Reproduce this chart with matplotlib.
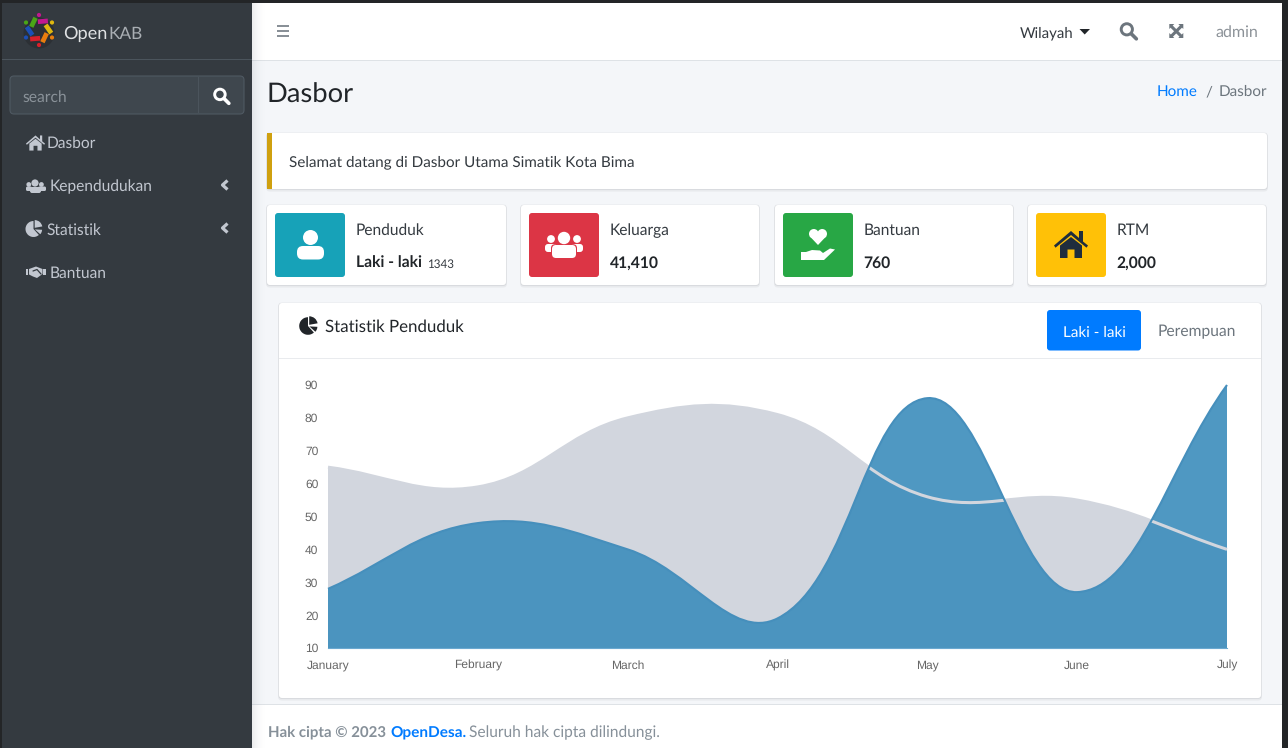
import numpy as np
import matplotlib
matplotlib.use('Agg')
import matplotlib.pyplot as plt
from matplotlib.patches import Circle, FancyBboxPatch, PathPatch, Polygon, Rectangle, Wedge
from matplotlib.path import Path

# chart data
months = ['January', 'February', 'March', 'April', 'May', 'June', 'July']
grey_values = [65, 59, 80, 81, 56, 55, 40]
blue_values = [28, 48, 40, 19, 86, 27, 90]
y_ticks = [10, 20, 30, 40, 50, 60, 70, 80, 90]

# page text
menu_labels = ['Dasbor', 'Kependudukan', 'Statistik', 'Bantuan']
box_titles = ['Penduduk', 'Keluarga', 'Bantuan', 'RTM']
box_values = ['Laki - laki', '41,410', '760', '2,000']

FONT = 'Lato'
GREY_FILL = '#d2d6de'
BLUE = '#3c8dbc'

plt.rcParams['font.family'] = FONT
plt.rcParams['text.hinting'] = 'no_hinting'

fig = plt.figure(figsize=(12.88, 7.48), dpi=100, facecolor='#f4f6f9')
ui = fig.add_axes([0, 0, 1, 1])
ui.set_xlim(0, 1288)
ui.set_ylim(748, 0)
ui.axis('off')


def rect(x0, y0, x1, y1, color, z=1, alpha=None):
    ui.add_patch(Rectangle((x0, y0), x1 - x0, y1 - y0, fc=color, ec='none', zorder=z, alpha=alpha))


def rbox(x0, y0, x1, y1, color, r=3, ec='none', z=2):
    ui.add_patch(FancyBboxPatch((x0, y0), x1 - x0, y1 - y0, boxstyle=f'round,pad=0,rounding_size={r}',
                                fc=color, ec=ec, lw=0.8, zorder=z))


def card(x0, y0, x1, y1, z=2):
    # soft shadow below, then the white box
    rbox(x0 - 1, y0 - 0.5, x1 + 1, y1 + 2.5, '#e8eaed', r=4, z=z)
    rbox(x0 - 0.5, y0, x1 + 0.5, y1 + 1, '#d9dbdf', r=3.5, z=z)
    rbox(x0, y0, x1, y1, 'white', r=3, z=z)


def txt(x, y, s, size=15.5, color='#212529', weight='normal', ha='left', z=6):
    # size in css px, y is the baseline
    ui.text(x, y, s, fontsize=size * 0.72, color=color, fontweight=weight, ha=ha, va='baseline', zorder=z)


def poly(points, color, z=5):
    ui.add_patch(Polygon(points, closed=True, fc=color, ec='none', zorder=z))


def line(xs, ys, color, lw=2, z=5, cap='round'):
    ui.plot(xs, ys, color=color, lw=lw, solid_capstyle=cap, solid_joinstyle='round', zorder=z)


def dot(x, y, r, color, z=5):
    ui.add_patch(Circle((x, y), r, fc=color, ec='none', zorder=z))


def person(cx, cy, s, color, z=5):
    dot(cx, cy - 7.5 * s, 7.5 * s, color, z)
    rbox(cx - 13.5 * s, cy + 1 * s, cx + 13.5 * s, cy + 14.5 * s, color, r=6 * s, z=z)


def people(cx, cy, color):
    dot(cx - 13, cy - 6, 3.9, color)
    dot(cx + 13, cy - 6, 3.9, color)
    rbox(cx - 19, cy - 1, cx - 7, cy + 7, color, r=3, z=5)
    rbox(cx + 7, cy - 1, cx + 19, cy + 7, color, r=3, z=5)
    dot(cx, cy - 7, 7, '#dc3545', 5.5)
    dot(cx, cy - 7, 6.2, color, 5.6)
    rbox(cx - 13, cy - 0.8, cx + 13, cy + 14, '#dc3545', r=4, z=5.5)
    rbox(cx - 12, cy, cx + 12, cy + 13, color, r=4, z=5.6)


def house(cx, cy, s, color):
    poly([(cx - 17 * s, cy + 1 * s), (cx, cy - 13.5 * s), (cx + 8 * s, cy - 6.5 * s), (cx + 8 * s, cy - 13.5 * s),
          (cx + 12 * s, cy - 13.5 * s), (cx + 12 * s, cy - 3 * s), (cx + 17 * s, cy + 1 * s), (cx + 15.5 * s, cy + 3.2 * s),
          (cx, cy - 9.5 * s), (cx - 15.5 * s, cy + 3.2 * s)], color)
    poly([(cx - 11 * s, cy + 1 * s), (cx, cy - 7.5 * s), (cx + 11 * s, cy + 1 * s), (cx + 11 * s, cy + 13.5 * s),
          (cx + 3.5 * s, cy + 13.5 * s), (cx + 3.5 * s, cy + 5 * s), (cx - 3.5 * s, cy + 5 * s), (cx - 3.5 * s, cy + 13.5 * s),
          (cx - 11 * s, cy + 13.5 * s)], color)


def pie_icon(cx, cy, r, color):
    # y axis is flipped here, so 90 degrees points down on screen
    ui.add_patch(Wedge((cx, cy), r, 48, 270, fc=color, ec='none', zorder=5))
    ui.add_patch(Wedge((cx + 1.2, cy - 1.2), r - 0.3, 270, 350, fc=color, ec='none', zorder=5))
    ui.add_patch(Wedge((cx + 1.4, cy + 0.4), r - 0.8, 3, 42, fc=color, ec='none', zorder=5))


def magnifier(cx, cy, s, color, z=5):
    ui.add_patch(Circle((cx - 1.5 * s, cy - 1.5 * s), 5 * s, fc='none', ec=color, lw=2.1, zorder=z))
    line([cx + 2.5 * s, cx + 7 * s], [cy + 2.5 * s, cy + 7 * s], color, 2.6, z)


# outer window frame and page areas
rect(0, 0, 1288, 748, '#232527', 0)
rect(2, 3, 1282, 748, '#f4f6f9', 0.5)
rect(252, 3, 1282, 60, 'white', 1)
rect(252, 60, 1282, 61, '#dee2e6', 1)
rect(252, 705, 1282, 748, 'white', 1)
rect(252, 704, 1282, 705, '#dee2e6', 1)

# sidebar shadow on the page
for i in range(14):
    rect(252 + i, 3, 253 + i, 748, '#8c9096', 1.5, alpha=0.16 * (1 - i / 14) ** 2)
rect(2, 3, 252, 748, '#343a40', 3)
rect(2, 59, 252, 60, '#4b545c', 3.5)

# logo
dot(39, 33, 15.5, '#2c3035', 3.6)
logo_colors = ['#c2188f', '#e0b80f', '#e87d0e', '#d8202a', '#1c4fb5', '#4aa517']
for i, c in enumerate(logo_colors):
    ang = np.deg2rad(-90 + 60 * i)
    dot(39 + 15 * np.cos(ang), 30 + 15 * np.sin(ang), 2.1, c)
    mid = ang + 0.42
    x, y = 39 + 9.5 * np.cos(mid), 30 + 9.5 * np.sin(mid)
    line([x - 5 * np.sin(mid - 0.5), x + 5 * np.sin(mid - 0.5)], [y + 5 * np.cos(mid - 0.5), y - 5 * np.cos(mid - 0.5)], c, 3.4, cap='butt')
txt(63.5, 39, 'Open', 18.2, '#dfe1e3')
txt(108.5, 39, 'KAB', 17.2, '#a9aeb3')

# sidebar search
rbox(10, 76, 244, 114, '#3f474e', r=4, ec='#4f5962', z=4)
rect(198, 77, 199, 113, '#4b545c', 4.5)
txt(22.5, 101.5, 'search', 15.6, '#8a9299')
magnifier(221.5, 96, 1.05, 'white')

# sidebar menu
menu_x = [47, 50, 46, 50]
menu_y = [147.6, 191.4, 234.5, 277.4]
for label, x, y in zip(menu_labels, menu_x, menu_y):
    txt(x, y, label, 15.5, '#c2c7d0')
house(35.5, 143, 0.56, '#c2c7d0')
dot(35, 183, 3.6, '#c2c7d0')
dot(28.8, 184.5, 2.4, '#c2c7d0')
dot(41.4, 184.5, 2.4, '#c2c7d0')
rbox(26, 186.5, 32, 191, '#c2c7d0', r=1.5, z=5)
rbox(38, 186.5, 46, 191, '#c2c7d0', r=1.5, z=5)
rbox(30, 187, 41, 193, '#c2c7d0', r=2, z=5)
pie_icon(33.5, 229, 8, '#c2c7d0')
rect(26, 269, 28, 275, '#c2c7d0', 5)
rect(43.5, 269, 46, 275, '#c2c7d0', 5)
poly([(29, 269), (36, 266.5), (42.5, 269), (42.5, 274), (37, 278), (33, 276.5), (29, 274.5)], '#c2c7d0')
line([33, 37, 41], [271, 269.5, 274], '#343a40', 0.9, 5.5)
for y in [185, 228]:
    line([227.5, 222.5, 227.5], [y - 4.5, y, y + 4.5], '#c2c7d0', 2.3, cap='butt')

# navbar
for y in [25.8, 31, 36.2]:
    line([277, 289.5], [y, y], '#6c757d', 1.15, cap='butt')
txt(1020, 37, 'Wilayah', 15, '#343a40')
poly([(1079.5, 29), (1090, 29), (1084.7, 34.5)], '#212529')
magnifier(1128.5, 31, 1.12, '#6c757d')
line([1171.5, 1181], [26.5, 36], '#6c757d', 2.2)
line([1171.5, 1181], [36, 26.5], '#6c757d', 2.2)
for sx, sy in [(-1, -1), (1, -1), (-1, 1), (1, 1)]:
    poly([(1176.3 + sx * 7, 31 + sy * 7), (1176.3 + sx * 2, 31 + sy * 7), (1176.3 + sx * 7, 31 + sy * 2)], '#6c757d')
txt(1215.5, 37, 'admin', 16, '#8c9298')

# page heading
txt(267, 103, 'Dasbor', 27.4)
txt(1157, 96, 'Home', 15.3, '#007bff')
txt(1205.5, 96, '/', 15.3, '#6c757d')
txt(1267, 96, 'Dasbor', 15.2, '#6c757d', ha='right')

# alert
card(267, 133, 1267, 189)
rect(267, 133, 272, 189, '#cfa00f', 3)
txt(289, 166.3, 'Selamat datang di Dasbor Utama Simatik Kota Bima', 15.2, '#343a40')

# info boxes
box_x = [267, 521, 775, 1028]
box_right = [506, 759, 1013, 1266]
box_colors = ['#17a2b8', '#dc3545', '#28a745', '#ffc107']
for x, xr, c, title, value in zip(box_x, box_right, box_colors, box_titles, box_values):
    card(x, 205, xr, 285)
    rbox(x + 8, 213, x + 78, 277, c, r=3, ec='none', z=3)
    txt(x + 88.7, 234.6, title, 15.5, '#343a40')
    txt(x + 88.7, 267.5, value, 15.6, '#212529', weight='bold')
txt(427, 267.5, '1343', 11.6, '#343a40')
person(310.5, 245, 1.0, 'white')
people(564, 245, 'white')
# heart in hand
dot(813.8, 233.8, 4.8, 'white')
dot(822.2, 233.8, 4.8, 'white')
poly([(809.3, 235.8), (826.7, 235.8), (818, 245)], 'white')
poly([(801, 252), (806, 252), (812, 250), (820, 250.5), (823, 253), (830, 248.5), (835, 249.5),
      (824, 260), (801, 260)], 'white')
house(1071, 244.5, 1.0, '#1f2d3d')

# chart card
card(279, 303, 1261, 698)
rect(279, 358, 1261, 359, '#e9ebee', 3)
pie_icon(308, 326, 8.8, '#212529')
txt(325, 332, 'Statistik Penduduk', 16.9, '#212529')
rbox(1047, 310, 1141, 350.5, '#007bff', r=3, z=3)
txt(1094.5, 336.5, 'Laki - laki', 15.3, 'white', ha='center')
txt(1196.5, 336.5, 'Perempuan', 15.6, '#6c757d', ha='center')

# footer
txt(268, 736.7, 'Hak cipta © 2023', 15, '#869099', weight='bold')
txt(390, 737, 'OpenDesa.', 15.4, '#007bff', weight='bold')
txt(469, 736.7, 'Seluruh hak cipta dilindungi.', 15.5, '#869099')

# line chart on top of the page
ax_left, ax_right, ax_top, ax_bottom = 328, 1227, 385, 648
ax = fig.add_axes([ax_left / 1288, 1 - ax_bottom / 748, (ax_right - ax_left) / 1288, (ax_bottom - ax_top) / 748])
ax.patch.set_alpha(0)
ax.set_xlim(0, len(months) - 1)
ax.set_ylim(10, 90)
for side in ax.spines.values():
    side.set_visible(False)
ax.set_xticks(range(len(months)), months)
ax.set_yticks(y_ticks)
ax.tick_params(axis='x', length=0, pad=15.05, labelcolor='#666666', labelsize=8.64)
ax.tick_params(axis='y', length=0, pad=7, labelcolor='#666666', labelsize=8.64)
for lab in ax.get_xticklabels():
    lab.set_fontfamily('Liberation Sans')
    lab.set_verticalalignment('baseline')
for lab in ax.get_yticklabels():
    lab.set_fontfamily('Liberation Sans')
    lab.set_verticalalignment('center_baseline')


def spline_path(values, tension=0.4, closed=False):
    # same control points as the chart.js line element, distances measured in pixels
    sx = (ax_right - ax_left) / (len(values) - 1)
    sy = (ax_bottom - ax_top) / 80
    n = len(values)
    before, after = [], []
    for i in range(n):
        p = (i - 1, values[i - 1]) if i > 0 else (i, values[i])
        c = (i, values[i])
        q = (i + 1, values[i + 1]) if i < n - 1 else (i, values[i])
        d01 = np.hypot((c[0] - p[0]) * sx, (c[1] - p[1]) * sy)
        d12 = np.hypot((q[0] - c[0]) * sx, (q[1] - c[1]) * sy)
        total = d01 + d12
        fa, fb = tension * d01 / total, tension * d12 / total
        before.append((c[0] - fa * (q[0] - p[0]), min(90, c[1] - fa * (q[1] - p[1]))))
        after.append((c[0] + fb * (q[0] - p[0]), min(90, c[1] + fb * (q[1] - p[1]))))
    verts = [(0, values[0])]
    codes = [Path.MOVETO]
    for i in range(1, n):
        verts += [after[i - 1], before[i], (i, values[i])]
        codes += [Path.CURVE4] * 3
    if closed:
        verts += [(n - 1, 10), (0, 10), (0, values[0])]
        codes += [Path.LINETO, Path.LINETO, Path.CLOSEPOLY]
    return Path(verts, codes)


ax.add_patch(PathPatch(spline_path(grey_values, closed=True), fc=GREY_FILL, ec='none', zorder=2))
ax.add_patch(PathPatch(spline_path(blue_values, closed=True), fc=BLUE, ec='none', alpha=0.9, zorder=3))
ax.add_patch(PathPatch(spline_path(grey_values), fc='none', ec=GREY_FILL, lw=2.2, zorder=4, clip_on=False))
ax.add_patch(PathPatch(spline_path(blue_values), fc='none', ec='#468fbc', lw=1.5, zorder=5, clip_on=False))
ax.plot([0, len(months) - 1], [10, 10], color='#6aa8d0', lw=0.8, zorder=5, clip_on=False)

fig.savefig('out.png', dpi=100, facecolor=fig.get_facecolor())
